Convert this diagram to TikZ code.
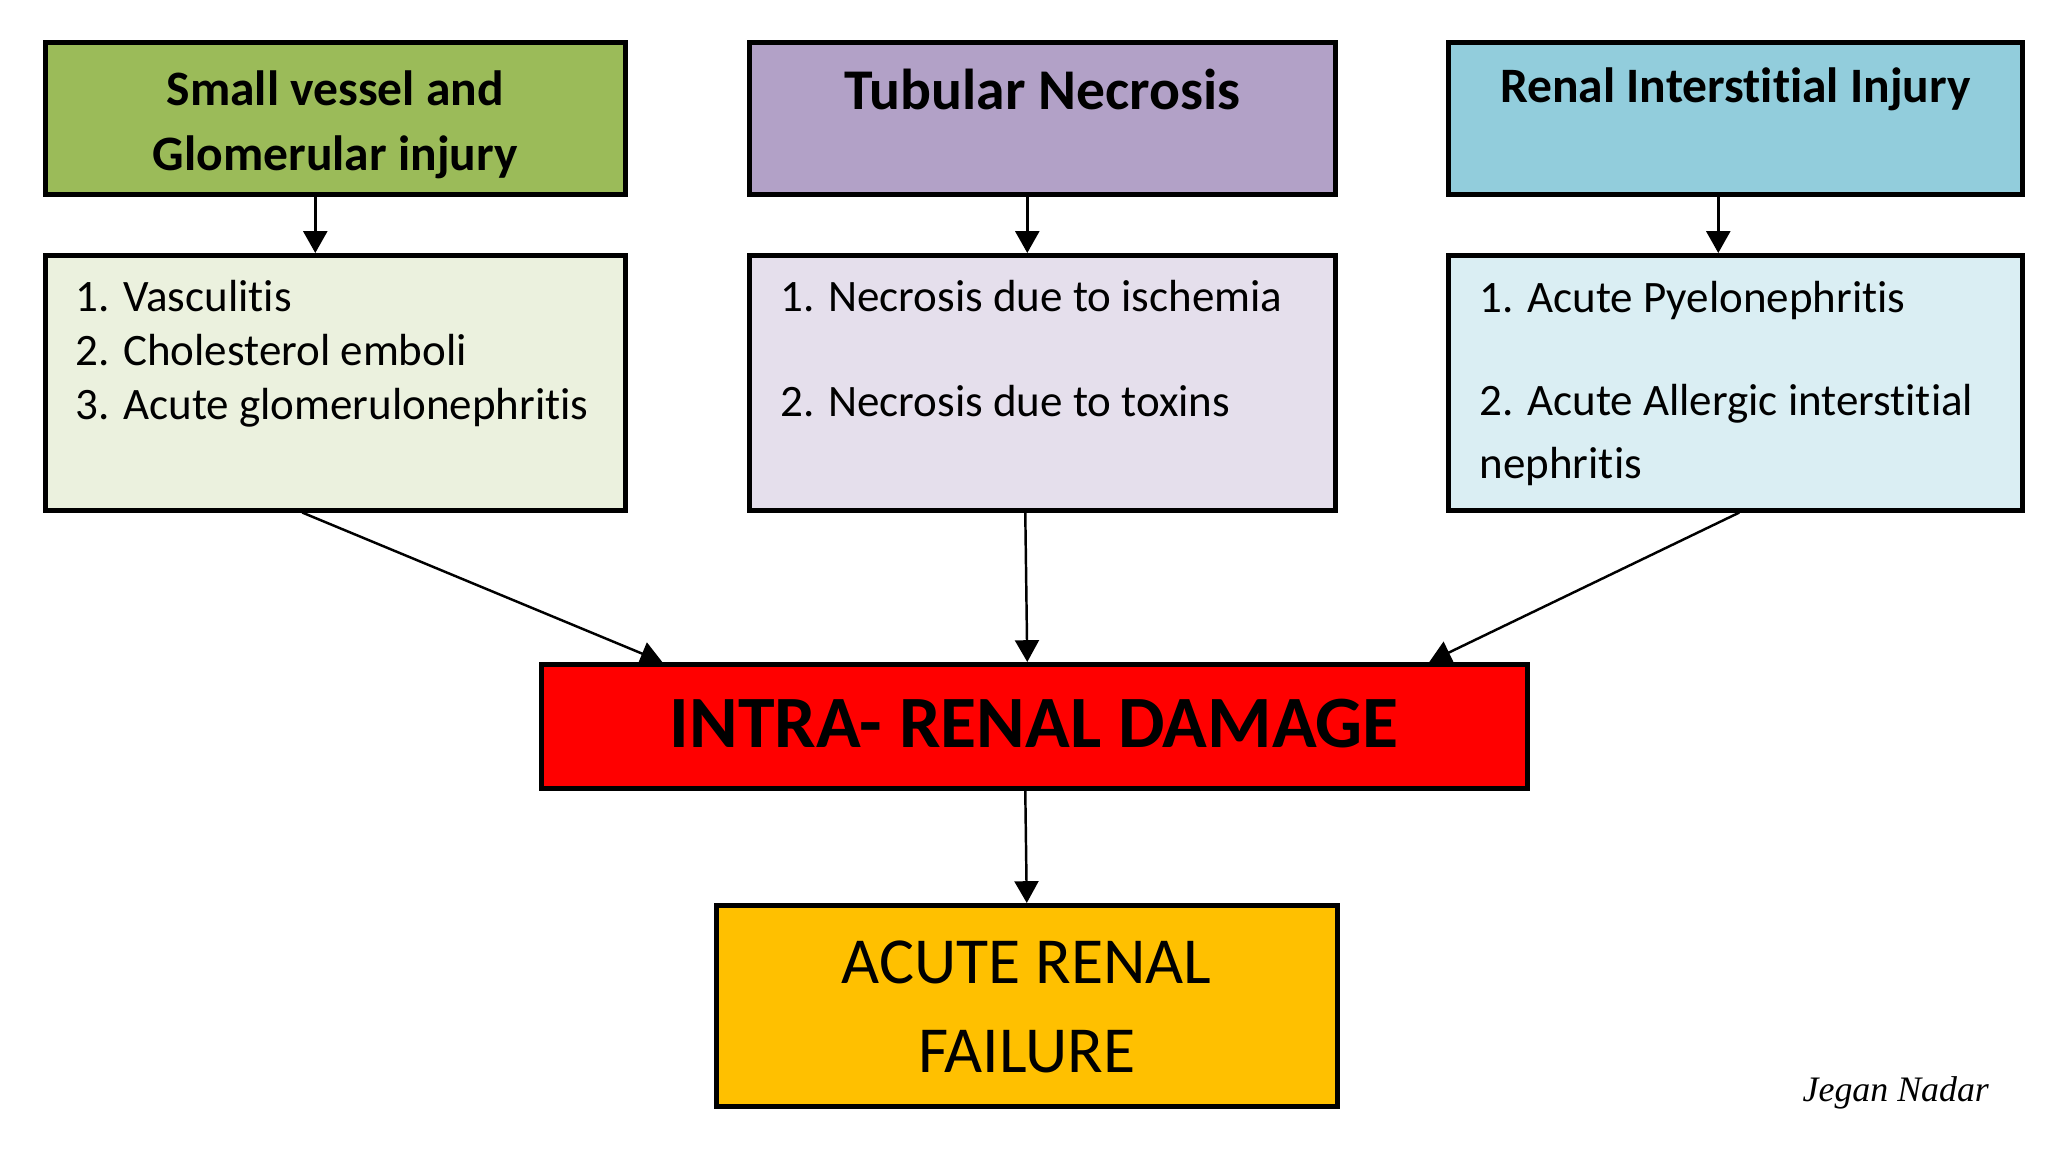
\documentclass[tikz,border=0pt]{standalone}
\usepackage{fontspec}
\setmainfont{Carlito}[Ligatures=NoCommon]
\newfontfamily\signfont{Liberation Serif}
\usetikzlibrary{arrows.meta}
\definecolor{vesselhead}{HTML}{9BBB59}
\definecolor{vessellight}{HTML}{EBF1DE}
\definecolor{tubulehead}{HTML}{B2A1C7}
\definecolor{tubulelight}{HTML}{E5DFEC}
\definecolor{interhead}{HTML}{92CDDC}
\definecolor{interlight}{HTML}{DAEEF3}
\definecolor{damagered}{HTML}{FF0000}
\definecolor{failureorange}{HTML}{FFC000}
\tikzset{
  box/.style={draw, line width=1.3pt, inner sep=0pt, anchor=north west},
  headbox/.style={box, minimum height=1.52cm},
  listbox/.style={box, minimum height=2.55cm},
  headtext/.style={font=\bfseries\fontsize{14.1}{18.6}\selectfont, align=center,
                   anchor=base, inner sep=0pt},
  listtext/.style={font=\fontsize{12.8}{15.4}\selectfont, align=left,
                   anchor=base west, inner sep=0pt},
  flow/.style={-{Triangle[length=6.2pt,width=6.8pt]}, line width=0.7pt},
}

\begin{document}
\begin{tikzpicture}
    \useasboundingbox (0,0) rectangle (20.48,-11.73);
    % top row
    \node[headbox, fill=vesselhead, minimum width=5.80cm] (vessel) at (0.43,-0.40) {};
    \node[headbox, fill=tubulehead, minimum width=5.86cm] (tubule) at (7.47,-0.40) {};
    \node[headbox, fill=interhead, minimum width=5.74cm] (inter) at (14.46,-0.40) {};
    \node[headtext] (vessel-t) at ([yshift=-1.31cm]vessel.north) {Small vessel and\\Glomerular injury};
    \node[headtext, font=\bfseries\fontsize{16.4}{19}\selectfont] (tubule-t) at ([yshift=-0.70cm]tubule.north) {Tubular Necrosis};
    \node[headtext] (inter-t) at ([yshift=-0.63cm]inter.north) {Renal Interstitial Injury};
    % lists
    \node[listbox, fill=vessellight, minimum width=5.80cm] (vessellist) at (0.43,-2.53) {};
    \node[listbox, fill=tubulelight, minimum width=5.86cm] (tubulelist) at (7.47,-2.53) {};
    \node[listbox, fill=interlight, minimum width=5.74cm] (interlist) at (14.46,-2.53) {};
    \node[listtext] (vessellist-t) at ([xshift=0.32cm, yshift=-1.67cm]vessellist.north west)
        {1. Vasculitis\\2. Cholesterol emboli\\3. Acute glomerulonephritis};
    \node[listtext] (tubulelist-t) at ([xshift=0.33cm, yshift=-1.64cm]tubulelist.north west)
        {1. Necrosis due to ischemia\\[14.5pt]2. Necrosis due to toxins};
    \node[listtext] (interlist-t) at ([xshift=0.33cm, yshift=-2.26cm]interlist.north west)
        {1. Acute Pyelonephritis\\[14.0pt]2. Acute Allergic interstitial\\[2.7pt]nephritis};
    % damage and failure
    \node[box, fill=damagered, minimum width=9.86cm, minimum height=1.24cm] (damage) at (5.39,-6.62) {};
    \node[box, fill=failureorange, minimum width=6.21cm, minimum height=2.01cm] (failure) at (7.14,-9.03) {};
    \node[headtext, font=\bfseries\fontsize{21}{24}\selectfont] (damage-t) at ([yshift=-0.856cm]damage.north) {INTRA- RENAL DAMAGE};
    \node[headtext, font=\fontsize{18.7}{25.6}\selectfont] (failure-t) at ([yshift=-1.70cm]failure.north) {ACUTE RENAL\\FAILURE};
    \node[anchor=base west, inner sep=0pt, font=\signfont\itshape\fontsize{10.2}{12}\selectfont] (sign) at (18.02,-11.02) {Jegan Nadar};
    % connectors
    \draw[flow] ([xshift=-0.20cm]vessel.south) -- ([xshift=-0.20cm]vessellist.north);
    \draw[flow] ([xshift=-0.15cm]tubule.south) -- ([xshift=-0.15cm]tubulelist.north);
    \draw[flow] ([xshift=-0.17cm]inter.south) -- ([xshift=-0.17cm]interlist.north);
    \draw[flow] ([xshift=-0.33cm]vessellist.south) -- ([xshift=-3.72cm]damage.north);
    \draw[flow] ([xshift=-0.17cm]tubulelist.south) -- ([xshift=-0.07cm]damage.north);
    \draw[flow] ([xshift=0.04cm]interlist.south) -- ([xshift=3.95cm]damage.north);
    \draw[flow] ([xshift=-0.09cm]damage.south) -- (failure.north);
\end{tikzpicture}
\end{document}
